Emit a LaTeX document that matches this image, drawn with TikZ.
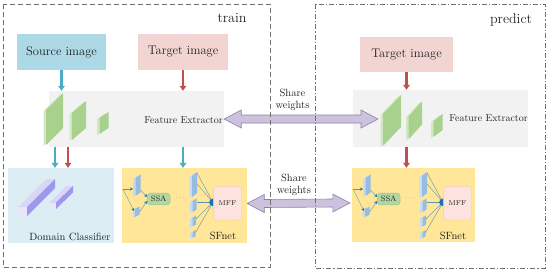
\documentclass[tikz,border=0pt]{standalone}
\usetikzlibrary{arrows.meta,calc}
\definecolor{srcblue}{HTML}{ADD9E6}
\definecolor{tgtpink}{HTML}{F2D5D3}
\definecolor{fegray}{HTML}{F2F2F2}
\definecolor{dcblue}{HTML}{DCEEF4}
\definecolor{sfyellow}{HTML}{FFE699}
\definecolor{plgreen}{HTML}{A9D18E}
\definecolor{plgreenL}{HTML}{D2E7C4}
\definecolor{arrblue}{HTML}{4BACC6}
\definecolor{arrred}{HTML}{C0504D}
\definecolor{lav}{HTML}{CCC2DD}
\definecolor{lavdark}{HTML}{8E82A8}
\definecolor{slabblue}{HTML}{96BCE2}
\definecolor{slabblueL}{HTML}{C8DBEF}
\definecolor{ssagreen}{HTML}{B3D6A2}
\definecolor{ssaedge}{HTML}{98C486}
\definecolor{mffpink}{HTML}{FCE3DE}
\definecolor{mffedge}{HTML}{F1CBC3}
\definecolor{tealh}{HTML}{2E7A91}
\definecolor{sfline}{HTML}{5C93A8}
\definecolor{hcblue}{HTML}{1F6FB2}
\definecolor{barside}{HTML}{9C98EC}
\definecolor{bartop}{HTML}{D9D6F6}
\definecolor{barfront}{HTML}{E8E6FA}
\definecolor{framegray}{HTML}{707070}
\definecolor{txt}{HTML}{222222}

\newcommand\slabp[7]{%
  \fill[#7] ({#1-2.5},{#2+1}) -- ++(#3,-#5) -- ++(0,#4) -- ++(-#3,#5) -- cycle;
  \fill[#6] (#1,#2) -- ++(#3,-#5) -- ++(0,#4) -- ++(-#3,#5) -- cycle;}
\newcommand\dcbar[5]{%
  \fill[bartop] (#1,#2) -- ++(#3,0) -- ++(#4,#5) -- ++(-#3,0) -- cycle;
  \fill[barside] ({#1+#3},#2) -- ++(0,#3) -- ++(#4,#5) -- ++(0,-#3) -- cycle;
  \fill[barfront] (#1,#2) rectangle ++(#3,#3);}
\newcommand\dblarr[2]{%
  \filldraw[fill=lav,draw=lavdark,line width=0.6pt]
    (#1) -- ++(17,-9) -- ++(0,5) -- ($(#2)+(-17,-4)$) -- ++(0,-5) -- (#2)
    -- ++(-17,9) -- ++(0,-5) -- ($(#1)+(17,4)$) -- ++(0,5) -- cycle;}
\newcommand\sfcontent[1]{%
  \slabp{13.5}{10}{5}{18}{3.5}{slabblue}{slabblueL}
  \slabp{13}{41}{4.5}{8}{2.5}{slabblue}{slabblueL}
  \coordinate (in#1) at (1,21);
  \coordinate (s1i#1) at (11,21);
  \coordinate (s2i#1) at (12,43);
  \coordinate (s1o#1) at (18.5,22);
  \coordinate (s2o#1) at (17.5,44);
  \node[ssabox] (ssa#1) at (36.7,31) {SSA};
  \draw[sfl,-{Stealth[length=3pt,width=3pt,color=tealh]}] (in#1) -- (s1i#1);
  \draw[sfl,-{Stealth[length=3pt,width=3pt,color=tealh]}] (in#1) -- (s2i#1);
  \draw[sfl,-{Stealth[length=3pt,width=3.5pt,color=tealh]}] (s1o#1) -- ($(ssa#1.west)+(0,-2)$);
  \draw[sfl,-{Stealth[length=3pt,width=3.5pt,color=tealh]}] (s2o#1) -- ($(ssa#1.west)+(0,2)$);
  \node[dotsn] (dots#1) at (58,30.5) {$\cdots$};
  \slabp{70}{8}{5}{21}{4}{slabblue}{slabblueL}
  \slabp{70.5}{33}{4}{11}{2.5}{slabblue}{slabblueL}
  \slabp{70.5}{49.5}{3.5}{9}{2}{slabblue}{slabblueL}
  \slabp{70.5}{64}{3}{6}{2}{slabblue}{slabblueL}
  \coordinate (hc#1) at (91,34.3);
  \coordinate (r1a#1) at (75,5);
  \coordinate (r1b#1) at (75,16);
  \coordinate (r2#1) at (74.5,34.3);
  \coordinate (r3#1) at (74,51);
  \coordinate (r4#1) at (73.5,64.5);
  \draw[sfl] (r1a#1) -- (hc#1);
  \draw[sfl] (r1b#1) -- (hc#1);
  \draw[sfl,line width=1.3pt] (r2#1) -- (hc#1);
  \draw[sfl] (r3#1) -- (hc#1);
  \draw[sfl] (r4#1) -- (hc#1);
  \fill[hcblue] (hc#1) circle (3.8);
  \node[mffbox] (mff#1) at (105.5,35.3) {MFF};
  \node[lbl,font=\fontsize{10.5}{12}\selectfont] (sft#1) at (101,67.5) {SFnet};
}

\begin{document}
\begin{tikzpicture}[x=1pt,y=-1pt,
  lbl/.style={text=txt,inner sep=0pt},
  imgbox/.style={inner sep=0pt,text=txt,font=\fontsize{12.5}{14}\selectfont},
  bgbox/.style={inner sep=0pt},
  carrow/.style={line width=2.3pt,-{Triangle[length=5pt,width=6.5pt]}},
  sfl/.style={draw=sfline,line width=0.4pt},
  ssabox/.style={draw=ssaedge,fill=ssagreen,rounded corners=3pt,minimum width=22.7,minimum height=11.7,inner sep=0pt,text=txt,font=\fontsize{8}{9}\selectfont},
  mffbox/.style={draw=mffedge,fill=mffpink,rounded corners=3pt,minimum width=28.4,minimum height=33.3,inner sep=0pt,text=txt,font=\fontsize{7}{8}\selectfont},
  dotsn/.style={inner sep=0pt,text=gray,font=\fontsize{6}{6}\selectfont},
  swtext/.style={align=center,inner sep=0pt,text=txt,font=\fontsize{10.5}{12}\selectfont}
]
\useasboundingbox (0,0) rectangle (550,274);
\fill[white] (0,0) rectangle (550,274);

% headings
\node[lbl,font=\fontsize{14}{16}\selectfont] (train) at (232,18) {train};
\node[lbl,font=\fontsize{14}{16}\selectfont] (predict) at (511,20) {predict};

% image boxes
\node[imgbox,fill=srcblue,minimum width=89,minimum height=36] (src) at (61.5,52) {Source image};
\node[imgbox,fill=tgtpink,minimum width=90,minimum height=36] (tgt1) at (183,52) {Target image};
\node[imgbox,fill=tgtpink,minimum width=93,minimum height=35] (tgt2) at (406.5,54.5) {Target image};

% feature extractor boxes
\node[bgbox,fill=fegray,minimum width=175,minimum height=56] (fe1) at (136.5,119) {};
\node[bgbox,fill=fegray,minimum width=175,minimum height=57] (fe2) at (440.5,118.5) {};
\slabp{46}{110}{17}{35}{17}{plgreen}{plgreenL}
\slabp{72}{113}{14}{27}{12}{plgreen}{plgreenL}
\slabp{99.5}{118}{9}{16}{6}{plgreen}{plgreenL}
\slabp{383}{114}{18}{32}{19}{plgreen}{plgreenL}
\slabp{408.5}{116.5}{13.5}{23}{15}{plgreen}{plgreenL}
\slabp{433.5}{121}{9}{16}{7}{plgreen}{plgreenL}
\node[lbl,anchor=east,font=\fontsize{10}{12}\selectfont] (fet1) at (223,120) {Feature Extractor};
\node[lbl,anchor=east,font=\fontsize{10}{12}\selectfont] (fet2) at (528,118.5) {Feature Extractor};

% domain classifier
\node[bgbox,fill=dcblue,minimum width=106,minimum height=75] (dc) at (61,205.5) {};
\dcbar{18}{207}{9}{28}{-28}
\dcbar{49}{203}{6.5}{17.5}{-17}
\node[lbl,font=\fontsize{10.5}{12}\selectfont] (dct) at (70,236.5) {Domain Classifier};

% SFnet boxes
\node[bgbox,fill=sfyellow,minimum width=125,minimum height=75] (sf1) at (184.5,205.5) {};
\node[bgbox,fill=sfyellow,minimum width=123,minimum height=74] (sf2) at (413.5,205) {};
\begin{scope}[shift={(122,168)}]
  \sfcontent{a}
\end{scope}
\begin{scope}[shift={(352,168)}]
  \sfcontent{b}
\end{scope}

% coloured arrows
\coordinate (dcb) at (55,0);
\coordinate (dcr) at (68,0);
\draw[carrow,arrblue] (src.south) -- (src.south |- fe1.north);
\draw[carrow,arrred] (tgt1.south) -- (tgt1.south |- fe1.north);
\draw[carrow,arrred] (tgt2.south) -- (tgt2.south |- fe2.north);
\draw[carrow,arrblue] (fe1.south -| dcb) -- (dc.north -| dcb);
\draw[carrow,arrred] (fe1.south -| dcr) -- (dc.north -| dcr);
\draw[carrow,arrblue] (fe1.south -| tgt1.south) -- (sf1.north -| tgt1.south);
\draw[carrow,arrred] (fe2.south -| tgt2.south) -- (sf2.north -| tgt2.south);

% share weights arrows
\coordinate (ta) at (fe1.east);
\coordinate (tb) at (378,119);
\dblarr{ta}{tb}
\coordinate (ba) at ($(sf1.east)+(0,-2)$);
\coordinate (bb) at ($(sf2.west)+(-2,-2)$);
\dblarr{ba}{bb}
\node[swtext] (sw1) at (292.5,100) {Share\\weights};
\node[swtext] (sw2) at (294,185) {Share\\weights};

% frames
\draw[framegray,line width=0.8pt,dash pattern=on 5pt off 3pt] (3,4) rectangle (270,267);
\draw[framegray,line width=0.8pt,dash pattern=on 5pt off 2pt on 1.2pt off 2pt] (315,4) rectangle (545,268);
\end{tikzpicture}
\end{document}
